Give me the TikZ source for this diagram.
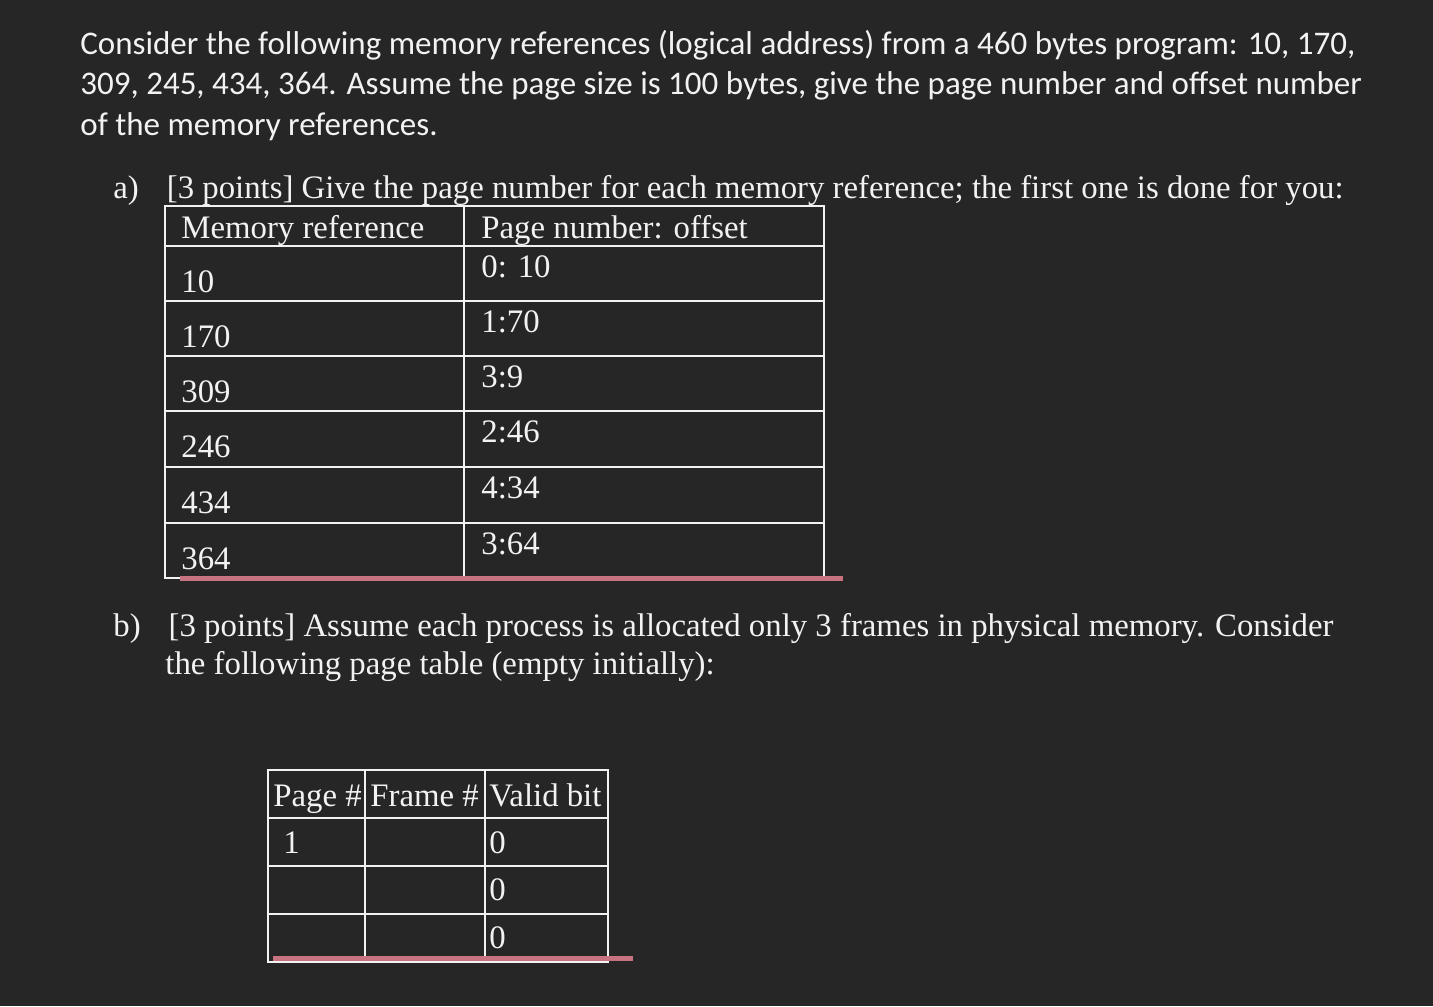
\documentclass[tikz,border=0pt]{standalone}
\usepackage{fontspec}
\setmainfont{Liberation Serif}
\newfontfamily\calfont{Carlito}
\definecolor{bg}{HTML}{262626}
\definecolor{fg}{HTML}{F2F2F2}
\definecolor{redl}{HTML}{C87480}
\begin{document}
\begin{tikzpicture}[x=0.5pt,y=-0.5pt,
  hd/.style={anchor=base west,inner sep=0,text=fg,font=\calfont\fontsize{16.5}{20}\selectfont},
  tx/.style={anchor=base west,inner sep=0,text=fg,font=\fontsize{16.4}{19}\selectfont},
  grid/.style={draw=fg,line width=1pt},
  redline/.style={draw=redl,line width=2.5pt}]
\fill[bg] (0,0) rectangle (1433,1006);
\useasboundingbox (0,0) rectangle (1433,1006);
\node[hd] (h1) at (80,55) {Consider the following memory references (logical address) from a 460 bytes program: 10, 170,};
\node[hd] (h2) at (80,95) {309, 245, 434, 364. Assume the page size is 100 bytes, give the page number and offset number};
\node[hd] (h3) at (80,135) {of the memory references.};
\node[tx] (a) at (113,198) {a)\hspace{14pt}[3 points] Give the page number for each memory reference; the first one is done for you:};
% table a
\draw[grid] (165,206) rectangle (824,578);
\draw[grid] (464,206) -- (464,578);
\foreach \y in {246,301,356,411,467,523} \draw[grid] (165,\y) -- (824,\y);
\draw[redline] (180,578) -- (843,578);
\node[tx] (ma) at (181,238) {Memory reference};
\node[tx] (pa) at (481,238) {Page number: offset};
\foreach \m/\p/\y [count=\i] in {10/0: 10/246,170/1:70/301,309/3:9/356,246/2:46/411,434/4:34/467,364/3:64/523}{
  \node[tx] (m\i) at (181,\y+46) {\m};
  \node[tx] (p\i) at (481,\y+31) {\p};
}
\node[tx] (b1) at (113,636) {b)\hspace{14pt}[3 points] Assume each process is allocated only 3 frames in physical memory. Consider};
\node[tx] (b2) at (165,674) {the following page table (empty initially):};
% table b
\draw[grid] (268,770) rectangle (608,962);
\draw[grid] (365,770) -- (365,962);
\draw[grid] (485,770) -- (485,962);
\foreach \y in {818,866,914} \draw[grid] (268,\y) -- (608,\y);
\draw[redline] (273,958) -- (633,958);
\node[tx] (c1) at (273,806) {Page \#};
\node[tx] (c2) at (370,806) {Frame \#};
\node[tx] (c3) at (489,806) {Valid bit};
\node[tx] (r1) at (283,853) {1};
\foreach \y [count=\i] in {853,900,948} \node[tx] (v\i) at (489,\y) {0};
\end{tikzpicture}
\end{document}
